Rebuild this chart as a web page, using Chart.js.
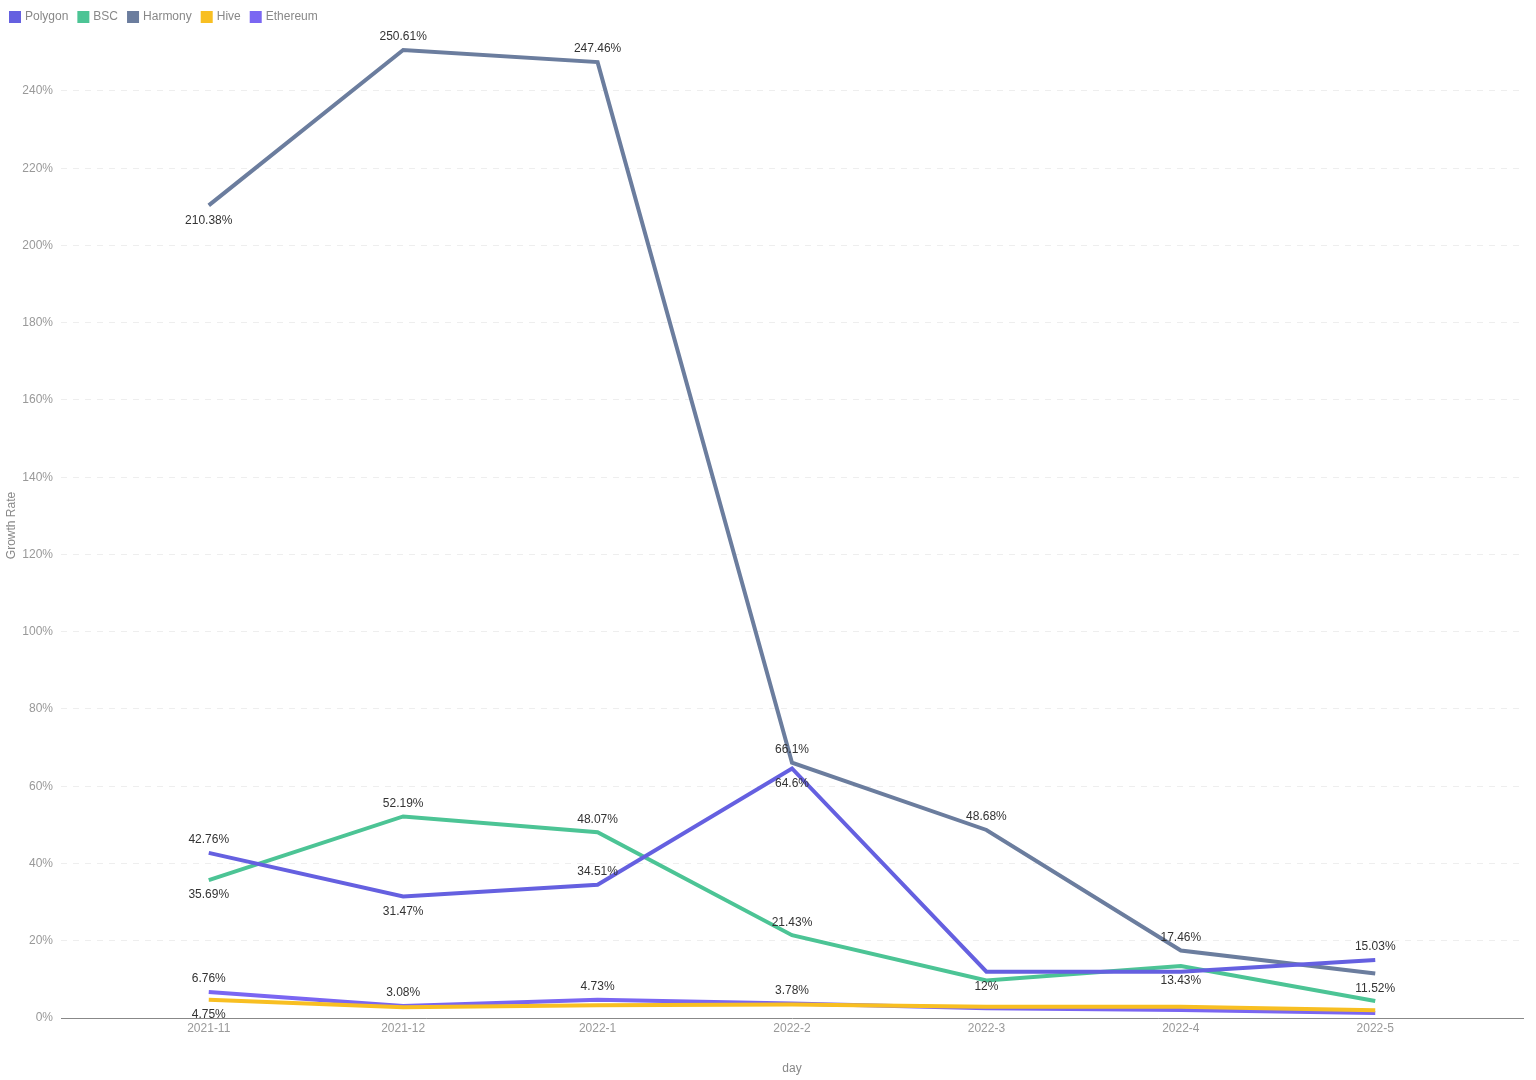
<!DOCTYPE html>
<html><head><meta charset="utf-8">
<script src="https://cdn.jsdelivr.net/npm/chart.js@4"></script>
<style>html,body{margin:0;background:#fff}#wrap{width:1536px;height:1080px}</style>
</head><body><div id="wrap"><canvas id="c"></canvas></div>
<script>
var months = ["2021-11","2021-12","2022-1","2022-2","2022-3","2022-4","2022-5"];
var polygon = [42.76,31.47,34.51,64.6,12,12,15.03];
var bsc = [35.69,52.19,48.07,21.43,9.7,13.43,4.4];
var harmony = [210.38,250.61,247.46,66.1,48.68,17.46,11.52];
var hive = [4.75,2.8,3.3,3.5,2.9,2.9,2.0];
var ethereum = [6.76,3.08,4.73,3.78,2.5,2.1,1.3];
// which point labels show: 'a' above, 'b' below, null hidden
var polygonLbl = ['a','b','a','b','b',null,'a'];
var bscLbl = ['b','a','a','a',null,'b',null];
var harmonyLbl = ['b','a','a','a','a','a','b'];
var hiveLbl = ['b',null,null,null,null,null,null];
var ethereumLbl = ['a','a','a','a',null,null,null];

function pts(v){ return v.map(function(y,i){ return {x:i,y:y}; }); }
function ds(name, v, color, lbl){
  return {label:name, data:pts(v), borderColor:color, backgroundColor:color, borderWidth:4,
    pointRadius:0, tension:0, lbl:lbl};
}

var labelPlugin = {
  id:'pointLabels',
  afterDatasetsDraw: function(chart){
    var ctx = chart.ctx;
    ctx.save();
    ctx.font = '12px "Liberation Sans", Arial, sans-serif';
    ctx.fillStyle = '#333';
    ctx.textAlign = 'center';
    ctx.textBaseline = 'middle';
    chart.data.datasets.forEach(function(d, di){
      var meta = chart.getDatasetMeta(di);
      d.data.forEach(function(p, i){
        var pos = d.lbl[i];
        if (!pos) return;
        var el = meta.data[i];
        ctx.fillText(p.y + '%', el.x, pos === 'a' ? el.y - 13 : el.y + 15);
      });
    });
    ctx.restore();
  }
};

new Chart(document.getElementById('c'), {
  type:'line',
  data:{datasets:[
    ds('Polygon', polygon, '#6560e0', polygonLbl),
    ds('BSC', bsc, '#4cc495', bscLbl),
    ds('Harmony', harmony, '#6b7d9e', harmonyLbl),
    ds('Hive', hive, '#f8bf22', hiveLbl),
    ds('Ethereum', ethereum, '#7a66f2', ethereumLbl)
  ]},
  plugins:[labelPlugin],
  options:{
    responsive:true, maintainAspectRatio:false, animation:false,
    layout:{padding:{left:0,right:13,top:0,bottom:0}},
    plugins:{
      legend:{align:'start', labels:{boxWidth:8, boxHeight:8, color:'#888', padding:11,
        font:{size:12, family:'"Liberation Sans", Arial, sans-serif'}}},
      tooltip:{enabled:false}
    },
    scales:{
      x:{type:'linear', min:-0.76, max:6.76,
        afterBuildTicks:function(a){ a.ticks = months.map(function(m,i){return {value:i};}); },
        ticks:{color:'#999', font:{size:12}, callback:function(v){ return months[v]; }},
        grid:{display:false, drawTicks:false},
        border:{color:'#888'},
        title:{display:true, text:'day', color:'#888', font:{size:12}},
        afterFit:function(a){ a.height = 62; }
      },
      y:{min:0, max:255,
        afterBuildTicks:function(a){ a.ticks = a.ticks.filter(function(t){ return t.value % 20 === 0; }); },
        ticks:{stepSize:20, color:'#999', font:{size:12}, padding:8, callback:function(v){ return v + '%'; }},
        grid:{color:'#eee', drawTicks:false},
        border:{display:false, dash:[6,6]},
        title:{display:true, text:'Growth Rate', color:'#888', font:{size:12}},
        afterFit:function(a){ a.width = 61; }
      }
    }
  }
});
</script></body></html>
